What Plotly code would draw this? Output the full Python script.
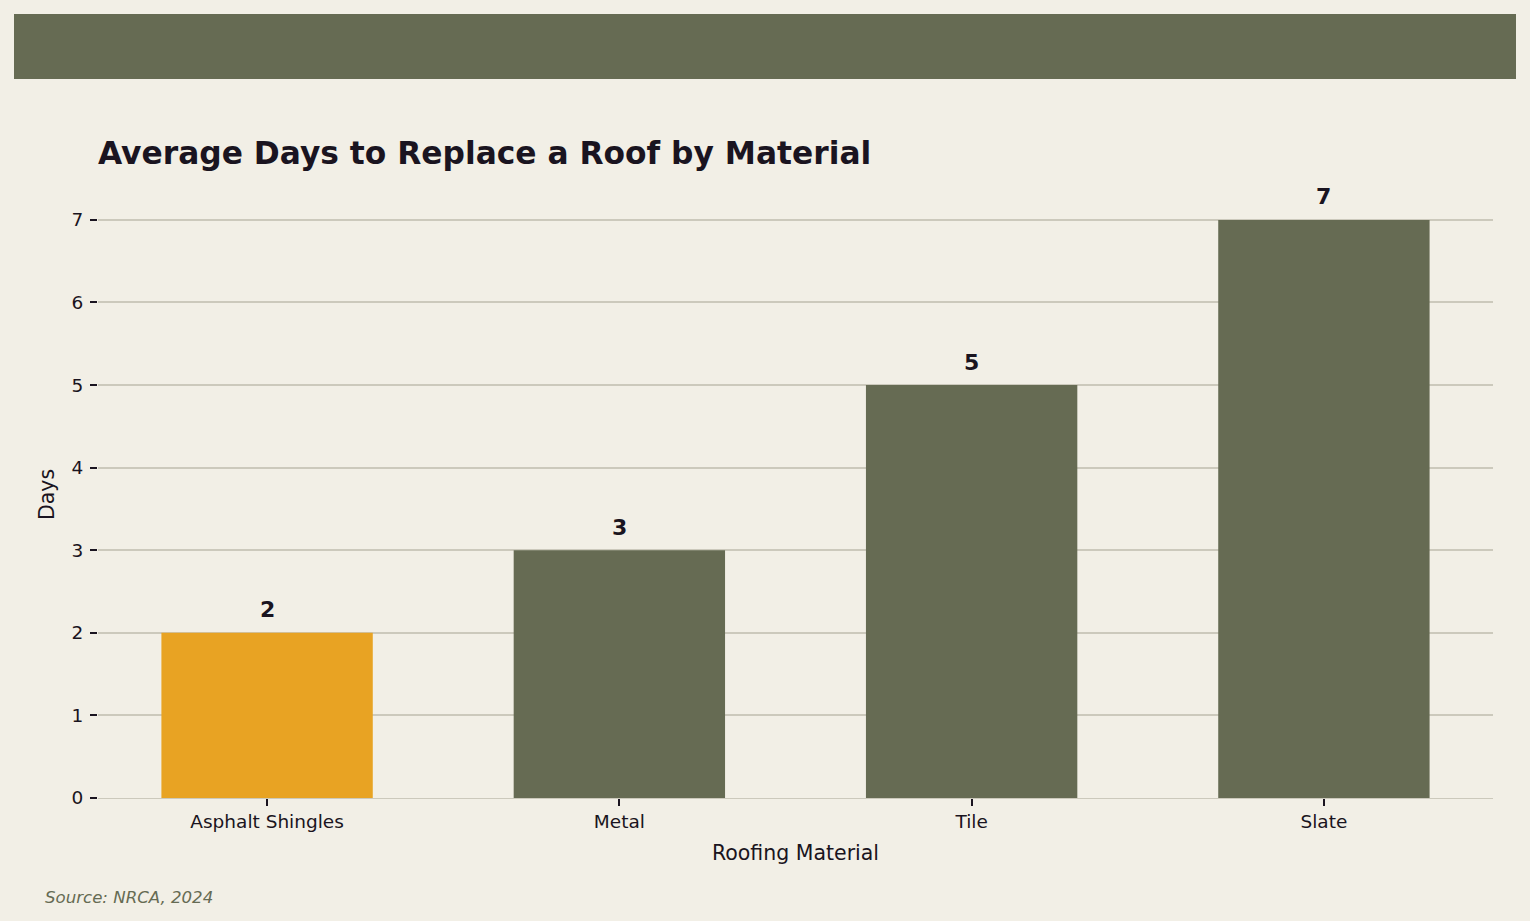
import plotly.graph_objects as go

categories = ["Asphalt Shingles", "Metal", "Tile", "Slate"]
days = [2, 3, 5, 7]
bar_colors = ["#E8A323", "#666B53", "#666B53", "#666B53"]
y_ticks = [0, 1, 2, 3, 4, 5, 6, 7]

BG = "#F2EFE6"
DARK = "#1A1420"
OLIVE = "#666B53"
GRID = "#CCC9BC"
FONT = "DejaVu Sans"

fig = go.Figure()
fig.add_trace(go.Bar(
    x=categories, y=days,
    marker=dict(color=bar_colors, line=dict(width=0)),
    hoverinfo="skip",
))

W, H = 1530, 921
L, R, T, B = 98, 37, 191, 123
pw, ph = W - L - R, H - T - B

def px_x(p):
    return (p - L) / pw

def px_y(p):
    return (H - B - p) / ph

annotations = [dict(
    x=c, y=v, xref="x", yref="y", text=f"<b>{v}</b>",
    showarrow=False, yanchor="middle", yshift=23,
    font=dict(family=FONT, size=22, color=DARK),
) for c, v in zip(categories, days)]

annotations.append(dict(
    text="<i>Source: NRCA, 2024</i>",
    xref="paper", yref="paper",
    x=px_x(43), y=px_y(897), xanchor="left", yanchor="middle",
    showarrow=False,
    font=dict(family=FONT, size=16.6, color=OLIVE),
))

fig.update_layout(
    width=W, height=H,
    margin=dict(l=L, r=R, t=T, b=B),
    paper_bgcolor=BG, plot_bgcolor=BG,
    font=dict(family=FONT, color=DARK, size=16),
    showlegend=False,
    bargap=0.4,
    title=dict(
        text="<b>Average Days to Replace a Roof by Material</b>",
        x=px_x(98), xanchor="left", xref="paper",
        y=1 - 153 / H, yanchor="middle",
        font=dict(family=FONT, size=31.3, color=DARK),
    ),
    xaxis=dict(
        range=[-0.48, 3.48],
        showgrid=False, zeroline=False, showline=False,
        ticks="outside", ticklen=7, tickwidth=1.5, tickcolor=DARK,
        tickfont=dict(family=FONT, size=18.5, color=DARK),
        title=dict(text="Roofing Material", font=dict(family=FONT, size=20.5, color=DARK), standoff=14),
    ),
    yaxis=dict(
        range=[0, 7.35],
        tickvals=y_ticks,
        showgrid=True, gridcolor=GRID, gridwidth=2,
        zeroline=True, zerolinecolor=GRID, zerolinewidth=1,
        showline=False,
        ticks="outside", ticklen=7, tickwidth=1.5, tickcolor=DARK,
        ticklabelstandoff=3,
        tickfont=dict(family=FONT, size=18.5, color=DARK),
        title=dict(text="Days", font=dict(family=FONT, size=20.5, color=DARK), standoff=11),
    ),
    shapes=[dict(
        type="rect", xref="paper", yref="paper",
        x0=px_x(14), x1=px_x(1516), y0=px_y(79), y1=px_y(14),
        fillcolor=OLIVE, line=dict(width=0), layer="below",
    )],
    annotations=annotations,
)

fig.write_html("out.html")
